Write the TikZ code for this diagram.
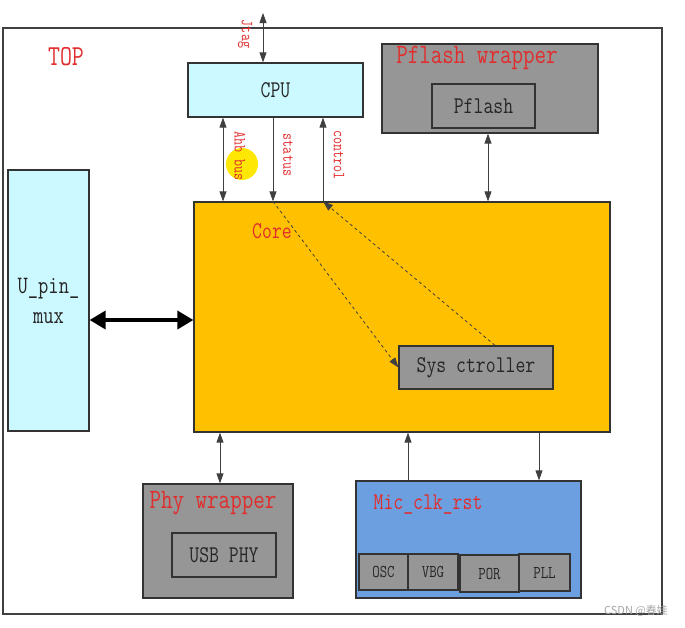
\documentclass[tikz,border=0pt]{standalone}
\usepackage{fontspec}
\usepackage{tikz}
\usetikzlibrary{arrows.meta}
\setmonofont[FakeStretch=0.8]{Latin Modern Mono}
\newfontfamily\cjk{Noto Sans CJK SC}
\definecolor{cpucyan}{RGB}{204,248,255}
\definecolor{coreorg}{RGB}{255,192,0}
\definecolor{boxgray}{RGB}{150,150,150}
\definecolor{micblue}{RGB}{108,159,223}
\definecolor{tred}{RGB}{225,45,45}

\begin{document}
\begin{tikzpicture}[x=1pt,y=-1pt,>={Triangle[length=10pt,width=7pt]},
    box/.style={draw=black!80,line width=1.2pt,rectangle,inner sep=0pt,text=black!85,
        font=\ttfamily\fontsize{24}{26}\selectfont},
    lbl/.style={text=tred,inner sep=0pt,font=\ttfamily\fontsize{#1}{#1}\selectfont},
    lbl/.default=24,
    sig/.style={text=tred,inner sep=0pt,rotate=-90,font=\ttfamily\fontsize{17}{17}\selectfont},
    wire/.style={draw=black!75,line width=0.8pt}]
    \useasboundingbox (0,0) rectangle (685,627);

    \node[box,draw=black!75,minimum width=659pt,minimum height=586pt] (top) at (332.5,321) {};
    \node[lbl=29] (toplbl) at (66,57) {TOP};

    \node[box,fill=cpucyan,minimum width=175pt,minimum height=54pt] (cpu) at (275.5,90) {CPU};
    \node[box,fill=coreorg,minimum width=416pt,minimum height=230pt] (core) at (402,317) {};
    \node[lbl] (corelbl) at (272,231) {Core};
    \node[box,fill=boxgray,minimum width=154pt,minimum height=43pt] (sys) at (476,367.5) {Sys ctroller};

    \node[box,fill=boxgray,minimum width=216pt,minimum height=89pt] (pfw) at (490,88.5) {};
    \node[lbl=28] (pfwlbl) at (477,58) {Pflash wrapper};
    \node[box,fill=boxgray,minimum width=103pt,minimum height=44pt] (pf) at (483.5,106) {Pflash};

    \node[box,fill=cpucyan,minimum width=81pt,minimum height=261pt,align=center,
        font=\ttfamily\fontsize{25}{30}\selectfont] (pin) at (48.5,300.5) {U\_pin\_\\mux};

    \node[box,fill=boxgray,minimum width=150pt,minimum height=114pt] (phyw) at (218,541) {};
    \node[lbl=28] (phywlbl) at (213,503) {Phy wrapper};
    \node[box,fill=boxgray,minimum width=104pt,minimum height=44pt] (usb) at (224,555) {USB PHY};

    \node[box,fill=micblue,minimum width=225pt,minimum height=117pt] (mic) at (468.5,539.5) {};
    \node[lbl] (miclbl) at (428,505) {Mic\_clk\_rst};
    \node[box,fill=boxgray,minimum width=49pt,minimum height=36pt,font=\ttfamily\fontsize{18}{18}\selectfont] (osc) at (383.5,572) {OSC};
    \node[box,fill=boxgray,minimum width=50pt,minimum height=36pt,font=\ttfamily\fontsize{18}{18}\selectfont] (vbg) at (433,572) {VBG};
    \node[box,fill=boxgray,minimum width=59pt,minimum height=37pt,font=\ttfamily\fontsize{18}{18}\selectfont] (por) at (489.5,573.5) {POR};
    \node[box,fill=boxgray,minimum width=51pt,minimum height=37pt,font=\ttfamily\fontsize{18}{18}\selectfont] (pll) at (544.5,572.5) {PLL};

    \coordinate (jtag) at (263,13);
    \coordinate (ahbx) at (223,0);
    \coordinate (stx) at (273,0);
    \coordinate (ctlx) at (323,0);
    \coordinate (pfx) at (488,0);
    \coordinate (dsx) at (495,0);
    \coordinate (muxy) at (0,320);
    \coordinate (phyx) at (220,0);
    \coordinate (micx) at (408,0);
    \coordinate (rstx) at (539,0);

    \draw[wire,<->] (jtag) -- (jtag |- cpu.north);
    \node[sig] (jtaglbl) at (245,34) {Jtag};
    \fill[yellow!90!orange] (242,164) circle (16pt);
    \draw[wire,<->] (cpu.south -| ahbx) -- (core.north -| ahbx);
    \node[sig] (ahblbl) at (240,156) {Ahb bus};
    \draw[wire,->] (cpu.south -| stx) -- (core.north -| stx);
    \node[sig] (stlbl) at (288,155) {status};
    \draw[wire,->] (core.north -| ctlx) -- (cpu.south -| ctlx);
    \node[sig] (ctllbl) at (339,155) {control};

    \draw[wire,dashed,->] (core.north -| stx) -- (sys.west);
    \draw[wire,dashed,->] (sys.north -| dsx) -- (core.north -| ctlx);

    \draw[wire,<->] (pfw.south -| pfx) -- (core.north -| pfx);
    \draw[<->,line width=3.5pt,>={Triangle[length=16pt,width=18pt]}] (pin.east |- muxy) -- (core.west |- muxy);
    \draw[wire,<->] (core.south -| phyx) -- (phyw.north -| phyx);
    \draw[wire,->] (mic.north -| micx) -- (core.south -| micx);
    \draw[wire,->] (core.south -| rstx) -- (mic.north -| rstx);

    \node[text=black!35,inner sep=0pt,font=\cjk\fontsize{11}{11}\selectfont] (mark) at (636,611) {CSDN @春娃};
\end{tikzpicture}
\end{document}
